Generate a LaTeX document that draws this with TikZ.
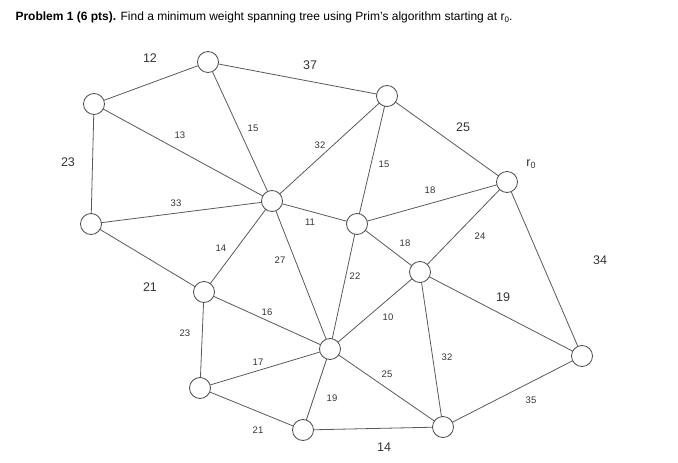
\documentclass[tikz,border=0pt]{standalone}
\usepackage{fontspec}
\setmainfont{Liberation Sans}
\begin{document}
\begin{tikzpicture}[x=1pt,y=-1pt,
  vtx/.style={circle,draw=black!70,fill=white,minimum size=21pt,inner sep=0pt,line width=0.8pt},
  edge/.style={draw=black!65,line width=0.8pt},
  big/.style={font=\fontsize{12.5}{12.5}\selectfont,text=black!80},
  sm/.style={font=\fontsize{9.5}{9.5}\selectfont,text=black!80}]
\useasboundingbox (0,0) rectangle (678,463);
\node[anchor=west,font=\fontsize{12}{12}\selectfont] (title) at (12,17) {\textbf{Problem 1 (6 pts).} Find a minimum weight spanning tree using Prim's algorithm starting at r\raisebox{-2pt}{\fontsize{8}{8}\selectfont 0}.};
\foreach \n/\x/\y in {A/208/62,B/94/104,C/387/96,D/91/224,E/272/201,F/357/224,G/507/182,H/420/272,I/204/292,J/330/349,K/582/356,L/200/388,M/303/430,N/443/427}
  \coordinate (\n) at (\x,\y);
\foreach \a/\b in {A/B,A/C,A/E,B/D,B/E,C/E,C/F,C/G,D/E,D/I,E/F,E/I,E/J,F/G,F/H,F/J,G/H,G/K,H/J,H/K,H/N,I/J,I/L,J/L,J/M,J/N,K/N,L/M,M/N}
  \draw[edge] (\a) -- (\b);
\foreach \n in {A,B,C,D,E,F,G,H,I,J,K,L,M,N}
  \node[vtx] (n\n) at (\n) {};
\node[big] (l1) at (150,58) {12};
\node[big] (l2) at (310,65) {37};
\node[sm] (l3) at (253,128) {15};
\node[big] (l4) at (68,162) {23};
\node[sm] (l5) at (180,135) {13};
\node[sm] (l6) at (320,145) {32};
\node[sm] (l7) at (384,164) {15};
\node[big] (l8) at (463,127) {25};
\node[sm] (l9) at (176,203) {33};
\node[big] (l10) at (150,287) {21};
\node[sm] (l11) at (310,222) {11};
\node[sm] (l12) at (221,248) {14};
\node[sm] (l13) at (280,260) {27};
\node[sm] (l14) at (430,190) {18};
\node[sm] (l15) at (405,243) {18};
\node[sm] (l16) at (355,276) {22};
\node[sm] (l17) at (480,236) {24};
\node[big] (l18) at (600,260) {34};
\node[sm] (l19) at (388,317) {10};
\node[big] (l20) at (503,297) {19};
\node[sm] (l21) at (447,357) {32};
\node[sm] (l22) at (267,312) {16};
\node[sm] (l23) at (185,333) {23};
\node[sm] (l24) at (258,362) {17};
\node[sm] (l25) at (332,398) {19};
\node[sm] (l26) at (387,374) {25};
\node[sm] (l27) at (531,400) {35};
\node[sm] (l28) at (258,430) {21};
\node[big] (l29) at (384,447) {14};
\node[big] (r0) at (531,164) {r\raisebox{-2.5pt}{\fontsize{9}{9}\selectfont 0}};
\end{tikzpicture}
\end{document}
